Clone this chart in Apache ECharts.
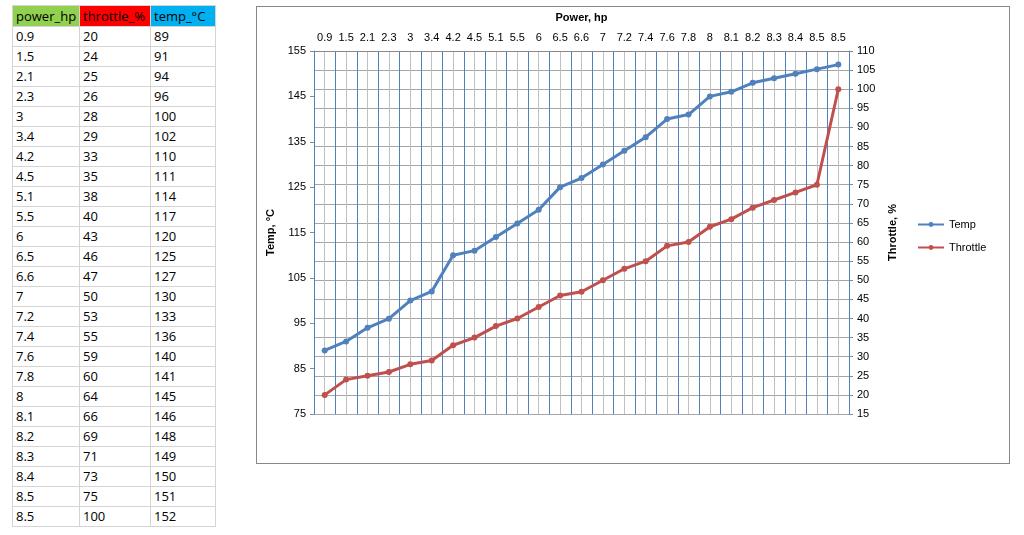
<!DOCTYPE html>
<html><head><meta charset="utf-8">
<script src="https://cdn.jsdelivr.net/npm/echarts@6/dist/echarts.min.js"></script>
<style>
body{margin:0;background:#fff;font-family:"Open Sans","Liberation Sans",sans-serif;}
table{position:absolute;left:12px;top:5px;border-collapse:collapse;font-size:13px;table-layout:fixed;width:204px;}
td,th{border:1px solid #d4d4d4;height:19px;line-height:19px;padding:0 0 0 3px;color:#000;white-space:nowrap;overflow:hidden;}
th{text-align:left;font-weight:normal;height:20px;line-height:20px;}
#chart{position:absolute;left:256px;top:6px;width:752px;height:456px;border:1px solid #888;}
</style></head><body>
<table id="tbl"></table>
<div id="chart"></div>
<script>
const power = ['0.9','1.5','2.1','2.3','3','3.4','4.2','4.5','5.1','5.5','6','6.5','6.6','7','7.2','7.4','7.6','7.8','8','8.1','8.2','8.3','8.4','8.5','8.5'];
const throttle = [20,24,25,26,28,29,33,35,38,40,43,46,47,50,53,55,59,60,64,66,69,71,73,75,100];
const temp = [89,91,94,96,100,102,110,111,114,117,120,125,127,130,133,136,140,141,145,146,148,149,150,151,152];

// table
const tbl = document.getElementById('tbl');
let html = '<tr><th style="background:#92d050;width:63px">power_hp</th><th style="background:#ff0000;width:67px">throttle_%</th><th style="background:#00b0f0">temp_°C</th></tr>';
power.forEach((p, i) => {
  html += '<tr><td>' + p + '</td><td>' + throttle[i] + '</td><td>' + temp[i] + '</td></tr>';
});
tbl.innerHTML = html;

// half-step categories: their boundaries give the gray lines through each point
const halves = [];
power.forEach((p, i) => { halves.push(i + 'a', i + 'b'); });

const chart = echarts.init(document.getElementById('chart'));
const font = 'Liberation Sans';
chart.setOption({
  textStyle: {fontFamily: font},
  grid: {left: 55, top: 18, right: 160, bottom: 49},
  legend: {
    orient: 'vertical', left: 655, top: 207, itemGap: 12,
    itemWidth: 26, itemHeight: 6,
    textStyle: {fontSize: 11, color: '#000'},
    data: ['Temp', 'Throttle']
  },
  xAxis: [{
    type: 'category', data: halves, position: 'bottom', z: 0,
    axisLine: {show: false}, axisTick: {show: false}, axisLabel: {show: false},
    splitLine: {show: true, interval: 0, lineStyle: {color: '#c0c0c0', width: 1}}
  }, {
    type: 'category', data: power, z: 1,
    name: 'Power, hp', nameLocation: 'middle', nameGap: 28,
    nameTextStyle: {fontWeight: 'bold', fontSize: 11, color: '#000'},
    axisLine: {lineStyle: {color: '#888'}},
    axisTick: {show: false},
    axisLabel: {color: '#000', fontSize: 11, interval: 0},
    splitLine: {show: true, interval: 0, lineStyle: {color: '#4f81bd', width: 1}}
  }],
  yAxis: [{
    type: 'value', min: 75, max: 155, interval: 10,
    name: 'Temp, °C', nameLocation: 'middle', nameGap: 38,
    nameTextStyle: {fontWeight: 'bold', fontSize: 11, color: '#000'},
    axisLine: {show: true, lineStyle: {color: '#888'}},
    axisTick: {show: true, length: 4},
    axisLabel: {color: '#000', fontSize: 11},
    splitLine: {show: false}
  }, {
    type: 'value', min: 15, max: 110, interval: 5,
    name: 'Throttle, %', nameLocation: 'middle', nameGap: 38, nameRotate: 90,
    nameTextStyle: {fontWeight: 'bold', fontSize: 11, color: '#000'},
    axisLine: {show: true, lineStyle: {color: '#888'}},
    axisTick: {show: true, length: 4},
    axisLabel: {color: '#000', fontSize: 11},
    splitLine: {show: true, lineStyle: {color: '#a6a6a6'}}
  }],
  series: [{
    name: 'Temp', type: 'line', data: temp, yAxisIndex: 0, xAxisIndex: 1,
    symbol: 'circle', symbolSize: 6,
    itemStyle: {color: '#4f81bd'}, lineStyle: {width: 3, color: '#4f81bd'}
  }, {
    name: 'Throttle', type: 'line', data: throttle, yAxisIndex: 1, xAxisIndex: 1,
    symbol: 'circle', symbolSize: 6,
    itemStyle: {color: '#c0504d'}, lineStyle: {width: 3, color: '#c0504d'}
  }]
});
</script>
</body></html>
